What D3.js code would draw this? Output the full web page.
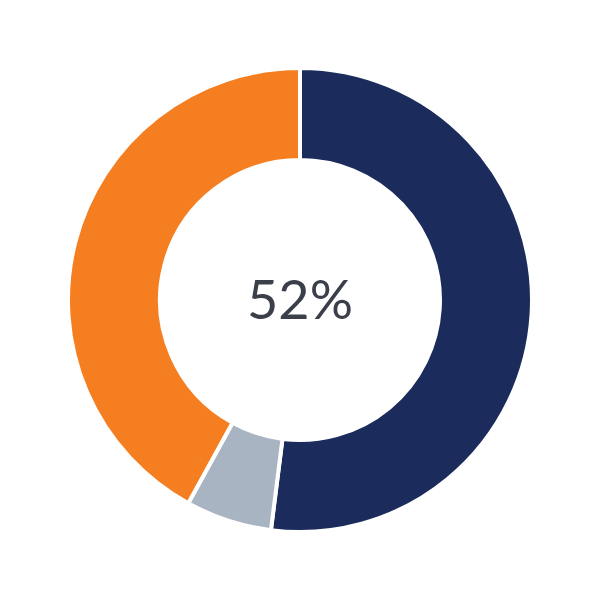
<!DOCTYPE html>
<html>
<head>
<meta charset="utf-8">
<script src="https://cdn.jsdelivr.net/npm/d3@7"></script>
<style>
  body { margin: 0; background: #fff; }
</style>
</head>
<body>
<div id="chart"></div>
<script>
// data
const labels = ["Yes", "Unsure", "No"];
const values = [52, 6, 42];
const colors = ["#1b2b5b", "#a9b4c3", "#f47e20"];
const centerLabel = "52%";

const width = 600;
const height = 600;
const outerR = 232;
const innerR = 140;

const svg = d3.select("#chart")
    .append("svg")
    .attr("width", width)
    .attr("height", height)
    .append("g")
    .attr("transform", `translate(${width / 2},${height / 2})`);

const pie = d3.pie()
    .value(d => d)
    .sort(null);

const arc = d3.arc()
    .innerRadius(innerR)
    .outerRadius(outerR);

const color = d3.scaleOrdinal()
    .domain(labels)
    .range(colors);

svg.selectAll("path")
    .data(pie(values))
    .enter()
    .append("path")
    .attr("d", arc)
    .attr("fill", (d, i) => color(labels[i]))
    .attr("stroke", "#fff")
    .attr("stroke-width", 4);

svg.append("text")
    .attr("text-anchor", "middle")
    .attr("dy", "0.35em")
    .style("font-family", "Lato, sans-serif")
    .style("font-size", "54px")
    .style("fill", "#3a3f4a")
    .text(centerLabel);
</script>
</body>
</html>
